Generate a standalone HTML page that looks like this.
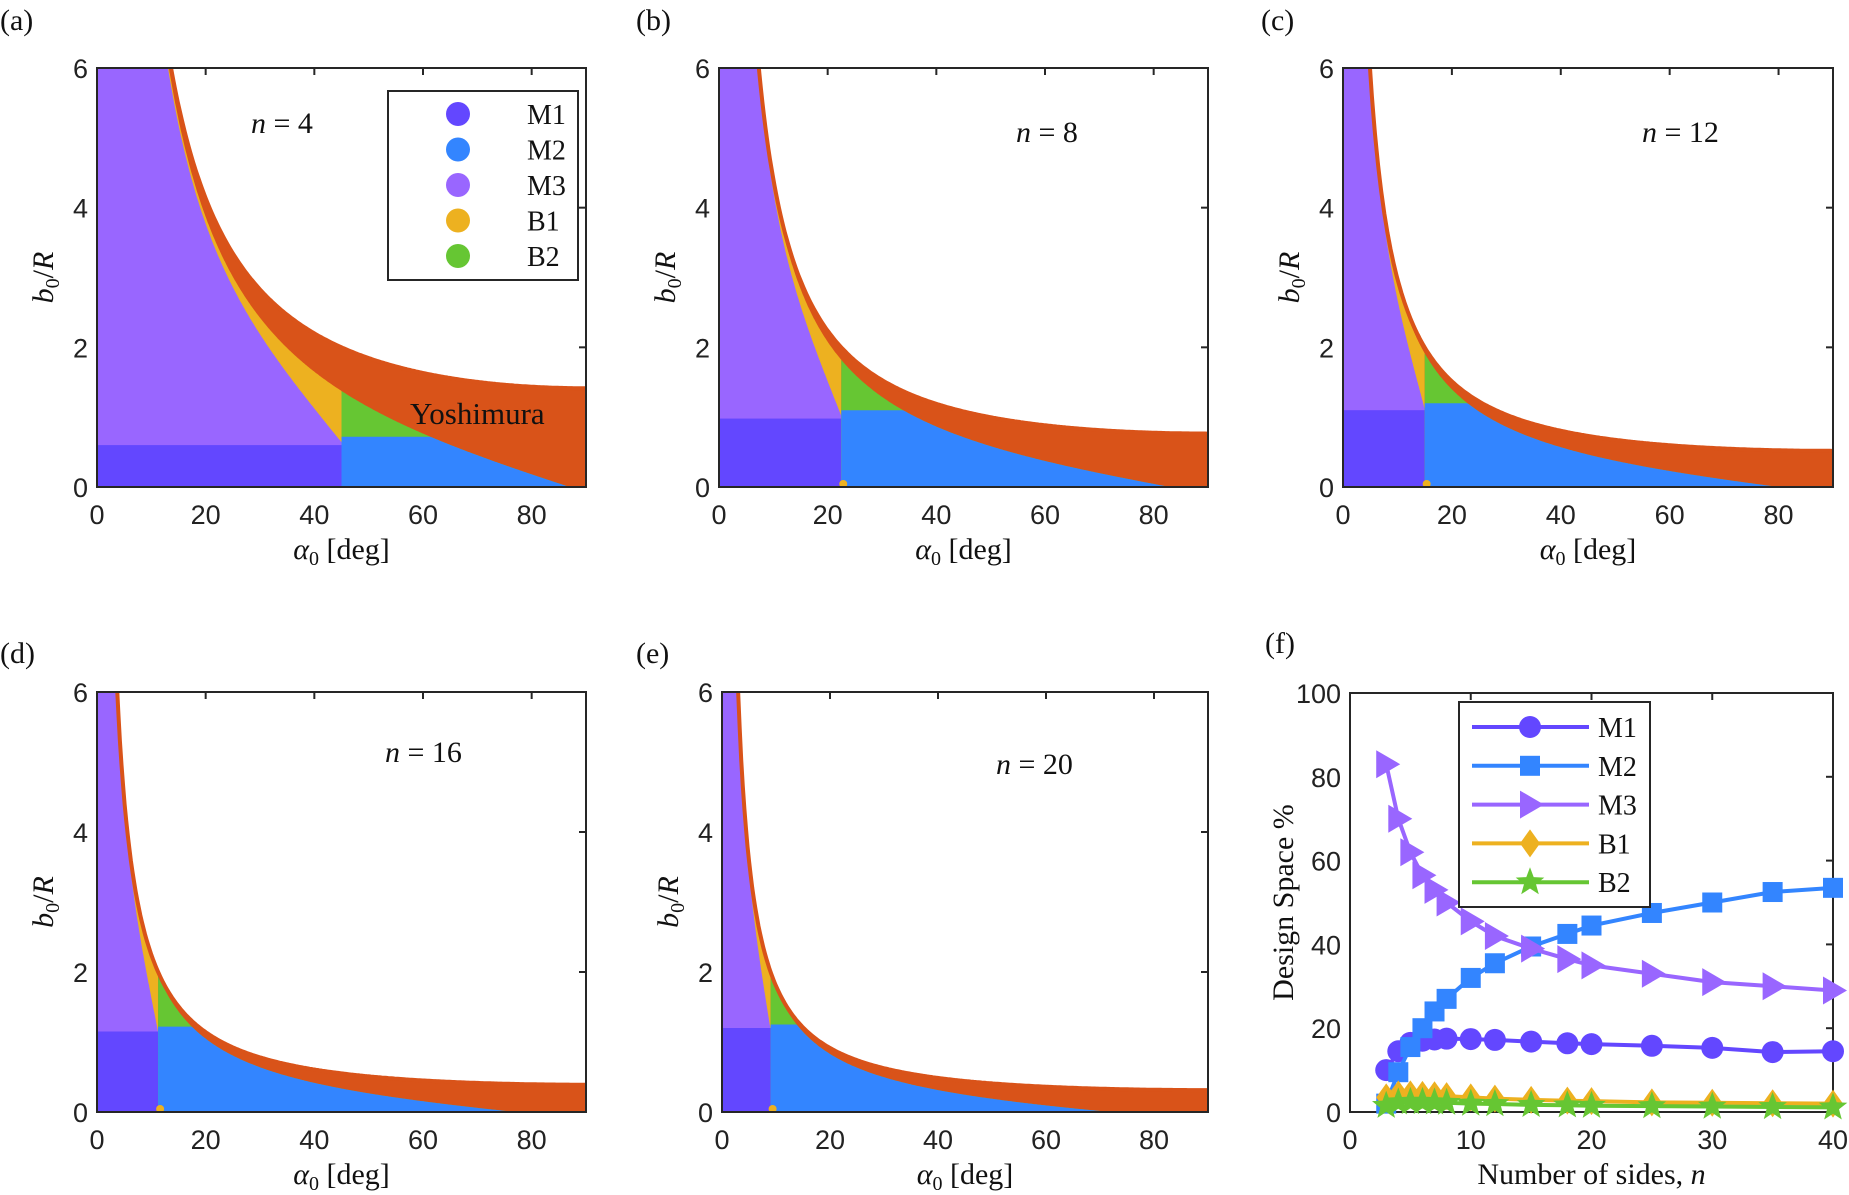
<!DOCTYPE html>
<html><head><meta charset="utf-8">
<style>
html,body{margin:0;padding:0;background:#fff;}
svg{display:block;}
.tk{font-family:"Liberation Sans",sans-serif;font-size:27px;fill:#222;}
.sr{font-family:"Liberation Serif",serif;fill:#111;}
</style></head>
<body>
<svg id="s" width="1849" height="1195" xmlns="http://www.w3.org/2000/svg"></svg>
<script>
const S=document.getElementById('s');
const NS='http://www.w3.org/2000/svg';
function el(t,a,p){const e=document.createElementNS(NS,t);for(const k in a)e.setAttribute(k,a[k]);(p||S).appendChild(e);return e;}
function txt(x,y,s,a,p){const e=el('text',Object.assign({x:x,y:y},a),p);e.innerHTML=s;return e;}
const C={M1:'#6347FF',M2:'#3385FF',M3:'#9966FF',B1:'#EDB120',B2:'#66C633',R:'#D95319'};
const panels=[
 {n:4,x0:97,x1:586,y0:68,y1:487,lab:'(a)',lx:0,ly:30,h1:0.6,h2:0.72,az:87,nt:[251,133]},
 {n:8,x0:719,x1:1208,y0:68,y1:487,lab:'(b)',lx:636,ly:30,h1:0.98,h2:1.1,az:83,nt:[1016,142]},
 {n:12,x0:1343,x1:1833,y0:68,y1:487,lab:'(c)',lx:1261,ly:30,h1:1.1,h2:1.2,az:80,nt:[1642,142]},
 {n:16,x0:97,x1:586,y0:692,y1:1112,lab:'(d)',lx:0,ly:663,h1:1.15,h2:1.22,az:77,nt:[385,762]},
 {n:20,x0:722,x1:1208,y0:692,y1:1112,lab:'(e)',lx:636,ly:663,h1:1.2,h2:1.25,az:72,nt:[996,774]}];
let cid=0;
panels.forEach(P=>{
 const X=a=>P.x0+(P.x1-P.x0)*a/90, Y=v=>P.y1-(P.y1-P.y0)*v/6;
 const id='c'+(cid++);
 const cp=el('clipPath',{id:id});el('rect',{x:P.x0,y:P.y0,width:P.x1-P.x0,height:P.y1-P.y0},cp);
 const g=el('g',{'clip-path':'url(#'+id+')'});
 const k=2*Math.sin(Math.PI/P.n), ac=180/P.n;
 const T=a=>Math.min(7,k/Math.sin(Math.max(a,0.5)*Math.PI/180));
 const L=a=>a>=P.az?0:Math.min(7,T(a)*Math.cos(a*90/P.az*Math.PI/180));
 const a6=Math.asin(Math.min(1,k/6))*180/Math.PI;
 const Lc=L(ac);
 const D=a=>{let t=Math.max(0,(a-a6)/(ac-a6));return 0.08+(Lc-P.h2)*Math.pow(t,2.2);};
 const M3=a=>Math.min(6.2,L(a)-D(a));
 function poly(f,aS,aE,col,base){let pts=[];const N=300;for(let i=0;i<=N;i++){const a=aS+(aE-aS)*i/N;pts.push(X(a).toFixed(1)+','+Y(f(a)).toFixed(1));}
  for(let i=N;i>=0;i--){const a=aS+(aE-aS)*i/N;pts.push(X(a).toFixed(1)+','+Y(base?base(a):0).toFixed(1));}
  el('polygon',{points:pts.join(' '),fill:col},g);}
 poly(T,0,90,C.R);
 poly(L,0,ac,C.B1);
 poly(a=>Math.max(M3(a),P.h1),0,ac,C.M3);
 el('rect',{x:X(0),y:Y(P.h1),width:X(ac)-X(0),height:Y(0)-Y(P.h1),fill:C.M1},g);
 poly(L,ac,90,C.B2);
 poly(a=>Math.min(L(a),P.h2),ac,90,C.M2);
 {let pts=[];for(let i=0;i<=300;i++){const a=a6*0.9+(90-a6*0.9)*i/300;pts.push(X(a).toFixed(1)+','+Y(T(a)).toFixed(1));}
  el('polyline',{points:pts.join(' '),fill:'none',stroke:C.R,'stroke-width':4},g);}
 if(P.n>4) el('circle',{cx:X(ac)+2,cy:Y(0)-3,r:4,fill:C.B1},g);
 el('rect',{x:P.x0,y:P.y0,width:P.x1-P.x0,height:P.y1-P.y0,fill:'none',stroke:'#262626','stroke-width':2});
 [0,20,40,60,80].forEach(v=>{el('line',{x1:X(v),x2:X(v),y1:P.y0,y2:P.y0+7,stroke:'#262626','stroke-width':2});
  txt(X(v),P.y1+37,v,{class:'tk','text-anchor':'middle'});});
 [0,2,4,6].forEach(v=>{el('line',{x1:P.x1,x2:P.x1-7,y1:Y(v),y2:Y(v),stroke:'#262626','stroke-width':2});
  txt(P.x0-9,Y(v)+10,v,{class:'tk','text-anchor':'end'});});
 txt((P.x0+P.x1)/2,P.y1+72,'<tspan font-style="italic">α</tspan><tspan font-size="20" dy="6">0</tspan><tspan dy="-6"> [deg]</tspan>',{class:'sr','font-size':30,'text-anchor':'middle'});
 const yl=el('text',{x:0,y:0,class:'sr','font-size':30,'text-anchor':'middle',transform:'translate('+(P.x0-44)+','+((P.y0+P.y1)/2)+') rotate(-90)'});
 yl.innerHTML='<tspan font-style="italic">b</tspan><tspan font-size="20" dy="6">0</tspan><tspan dy="-6">/</tspan><tspan font-style="italic">R</tspan>';
 txt(P.lx,P.ly,P.lab,{class:'sr','font-size':30});
 txt(P.nt[0],P.nt[1],'<tspan font-style="italic">n</tspan> = '+P.n,{class:'sr','font-size':30});
});
el('rect',{x:388,y:91,width:190,height:189,fill:'#fff',stroke:'#262626','stroke-width':2});
[['M1',C.M1],['M2',C.M2],['M3',C.M3],['B1',C.B1],['B2',C.B2]].forEach((d,i)=>{const y=114+i*35.5;
 el('circle',{cx:458,cy:y,r:12,fill:d[1]});txt(527,y+10,d[0],{class:'sr','font-size':28});});
txt(410,424,'Yoshimura',{class:'sr','font-size':31});
const fx0=1350,fx1=1833,fy0=693,fy1=1112;
const FX=v=>fx0+(fx1-fx0)*v/40, FY=v=>fy1-(fy1-fy0)*v/100;
el('rect',{x:fx0,y:fy0,width:fx1-fx0,height:fy1-fy0,fill:'#fff',stroke:'#262626','stroke-width':2});
[0,10,20,30,40].forEach(v=>{el('line',{x1:FX(v),x2:FX(v),y1:fy0,y2:fy0+7,stroke:'#262626','stroke-width':2});
 txt(FX(v),fy1+37,v,{class:'tk','text-anchor':'middle'});});
[0,20,40,60,80,100].forEach(v=>{el('line',{x1:fx1,x2:fx1-7,y1:FY(v),y2:FY(v),stroke:'#262626','stroke-width':2});
 txt(fx0-9,FY(v)+10,v,{class:'tk','text-anchor':'end'});});
txt((fx0+fx1)/2,fy1+72,'Number of sides, <tspan font-style="italic">n</tspan>',{class:'sr','font-size':30,'text-anchor':'middle'});
const fyl=el('text',{x:0,y:0,class:'sr','font-size':30,'text-anchor':'middle',transform:'translate('+(fx0-57)+','+((fy0+fy1)/2)+') rotate(-90)'});fyl.innerHTML='Design Space %';
txt(1265,653,'(f)',{class:'sr','font-size':30});
const ns=[3,4,5,6,7,8,10,12,15,18,20,25,30,35,40];
const data={
 M1:[10,14.5,16.5,17,17.3,17.5,17.4,17.2,16.8,16.4,16.2,15.8,15.3,14.3,14.5],
 M2:[2,9.5,15.5,20,24,27,32,35.5,39.5,42.5,44.5,47.5,50,52.5,53.5],
 M3:[83,70,62,56.5,53,50,45.5,42,39,36.5,35,33,31,30,29],
 B1:[3.5,4.2,4.2,4.1,4,3.8,3.5,3.2,2.9,2.7,2.6,2.3,2.2,2.1,2],
 B2:[1.5,2.3,2.4,2.4,2.3,2.2,2,1.9,1.7,1.6,1.5,1.4,1.3,1.2,1.1]};
function star(cx,cy,r){let p=[];for(let i=0;i<10;i++){const a=-Math.PI/2+i*Math.PI/5,rr=i%2?r*0.42:r;p.push((cx+rr*Math.cos(a)).toFixed(1)+','+(cy+rr*Math.sin(a)).toFixed(1));}return p.join(' ');}
function marker(type,x,y,col,g){
 if(type==='M1')el('circle',{cx:x,cy:y,r:11,fill:col},g);
 else if(type==='M2')el('rect',{x:x-10,y:y-10,width:20,height:20,fill:col},g);
 else if(type==='M3')el('polygon',{points:(x-10)+','+(y-14)+' '+(x+14)+','+y+' '+(x-10)+','+(y+14),fill:col},g);
 else if(type==='B1')el('polygon',{points:x+','+(y-14)+' '+(x+10)+','+y+' '+x+','+(y+14)+' '+(x-10)+','+y,fill:col},g);
 else el('polygon',{points:star(x,y,15),fill:col},g);}
['M1','M2','M3','B1','B2'].forEach(k=>{
 el('polyline',{points:ns.map((n,i)=>FX(n)+','+FY(data[k][i])).join(' '),fill:'none',stroke:C[k],'stroke-width':4});
 ns.forEach((n,i)=>marker(k,FX(n),FY(data[k][i]),C[k]));});
el('rect',{x:1459,y:702,width:191,height:205,fill:'#fff',stroke:'#262626','stroke-width':2});
['M1','M2','M3','B1','B2'].forEach((k,i)=>{const y=727+i*38.8;
 el('line',{x1:1472,x2:1589,y1:y,y2:y,stroke:C[k],'stroke-width':4});marker(k,1530,y,C[k]);
 txt(1598,y+10,k,{class:'sr','font-size':28});});
</script>
</body></html>
